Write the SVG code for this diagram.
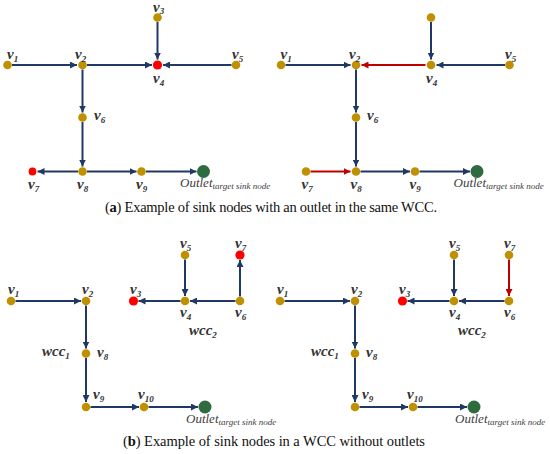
<svg xmlns="http://www.w3.org/2000/svg" width="550" height="454" viewBox="0 0 550 454">
<style>
.e{stroke:#1F3864;stroke-width:2;fill:none;marker-end:url(#ah)}
.er{stroke:#C00000;stroke-width:2;fill:none;marker-end:url(#ahr)}
.g{fill:#BF9000}
.r{fill:#FF0000}
.o{fill:#2E6B3E}
.l{font-family:"Liberation Serif",serif;font-style:italic;font-weight:bold;font-size:15px;fill:#333}
.s{font-size:9px}
.ot{font-family:"Liberation Serif",serif;font-style:italic;font-size:13px;fill:#404040}
.ots{font-size:9px}
.cap{font-family:"Liberation Serif",serif;font-size:14.5px;fill:#111}
</style>
<defs>
<marker id="ah" viewBox="0 0 8 8" refX="8" refY="4" markerWidth="7" markerHeight="7" markerUnits="userSpaceOnUse" orient="auto"><path d="M0,0L8,4L0,8z" fill="#1F3864"/></marker>
<marker id="ahr" viewBox="0 0 8 8" refX="8" refY="4" markerWidth="7" markerHeight="7" markerUnits="userSpaceOnUse" orient="auto"><path d="M0,0L8,4L0,8z" fill="#C00000"/></marker>
</defs>

<!-- Panel a left -->
<g id="connectors-a1">
<line class="e" x1="12" y1="65" x2="77" y2="65"/>
<line class="e" x1="87" y1="65" x2="152" y2="65"/>
<line class="e" x1="157.5" y1="22" x2="157.5" y2="59.5"/>
<line class="e" x1="231.5" y1="65" x2="163" y2="65"/>
<line class="e" x1="82.5" y1="69.5" x2="82.5" y2="112.5"/>
<line class="e" x1="82.5" y1="122" x2="82.5" y2="166.5"/>
<line class="e" x1="78" y1="171.5" x2="37.5" y2="171.5"/>
<line class="e" x1="87" y1="171.5" x2="136.5" y2="171.5"/>
<line class="e" x1="146" y1="171.5" x2="196.5" y2="171.5"/>
</g>
<g id="a1-v1"><circle class="g" cx="7.5" cy="65" r="4.3"/><text class="l" x="7" y="58.5">v<tspan class="s" dy="3">1</tspan></text></g>
<g id="a1-v2"><circle class="g" cx="82.5" cy="65" r="4.3"/><text class="l" x="75" y="58.5">v<tspan class="s" dy="3">2</tspan></text></g>
<g id="a1-v3"><circle class="g" cx="157.5" cy="17.5" r="4.3"/><text class="l" x="153" y="11.5">v<tspan class="s" dy="2">3</tspan></text></g>
<g id="a1-v4"><circle class="r" cx="157.5" cy="65" r="4.6"/><text class="l" x="153" y="83">v<tspan class="s" dy="3">4</tspan></text></g>
<g id="a1-v5"><circle class="g" cx="236" cy="65" r="4.3"/><text class="l" x="232" y="58.5">v<tspan class="s" dy="3">5</tspan></text></g>
<g id="a1-v6"><circle class="g" cx="82.5" cy="117.5" r="4.3"/><text class="l" x="94" y="120">v<tspan class="s" dy="3">6</tspan></text></g>
<g id="a1-v7"><circle class="r" cx="32.5" cy="171.5" r="3.9"/><text class="l" x="28" y="189">v<tspan class="s" dy="3">7</tspan></text></g>
<g id="a1-v8"><circle class="g" cx="82.5" cy="171.5" r="4.3"/><text class="l" x="77" y="189">v<tspan class="s" dy="3">8</tspan></text></g>
<g id="a1-v9"><circle class="g" cx="141.5" cy="171.5" r="4.3"/><text class="l" x="136" y="189">v<tspan class="s" dy="3">9</tspan></text></g>
<g id="a1-outlet"><circle class="o" cx="203.5" cy="171.5" r="6.5"/><text class="ot" x="180" y="187">Outlet<tspan class="ots" dy="2">target sink node</tspan></text></g>

<!-- Panel a right -->
<g id="connectors-a2">
<line class="e" x1="285.5" y1="65" x2="350.5" y2="65"/>
<line class="er" x1="425.5" y1="65" x2="361.5" y2="65"/>
<line class="e" x1="431" y1="22" x2="431" y2="59.5"/>
<line class="e" x1="505" y1="65" x2="436.5" y2="65"/>
<line class="e" x1="356" y1="69.5" x2="356" y2="112.5"/>
<line class="e" x1="356" y1="122" x2="356" y2="166.5"/>
<line class="er" x1="310.5" y1="171.5" x2="350.5" y2="171.5"/>
<line class="e" x1="360.5" y1="171.5" x2="410" y2="171.5"/>
<line class="e" x1="419.5" y1="171.5" x2="470" y2="171.5"/>
</g>
<g id="a2-v1"><circle class="g" cx="281" cy="65" r="4.3"/><text class="l" x="280.5" y="58.5">v<tspan class="s" dy="3">1</tspan></text></g>
<g id="a2-v2"><circle class="g" cx="356" cy="65" r="4.3"/><text class="l" x="349" y="58.5">v<tspan class="s" dy="3">2</tspan></text></g>
<g id="a2-v3"><circle class="g" cx="431" cy="17.5" r="4.3"/></g>
<g id="a2-v4"><circle class="g" cx="431" cy="65" r="4.3"/><text class="l" x="426" y="83">v<tspan class="s" dy="3">4</tspan></text></g>
<g id="a2-v5"><circle class="g" cx="509.5" cy="65" r="4.3"/><text class="l" x="505" y="58.5">v<tspan class="s" dy="3">5</tspan></text></g>
<g id="a2-v6"><circle class="g" cx="356" cy="117.5" r="4.3"/><text class="l" x="367" y="120">v<tspan class="s" dy="3">6</tspan></text></g>
<g id="a2-v7"><circle class="g" cx="306" cy="171.5" r="4.3"/><text class="l" x="301.5" y="189">v<tspan class="s" dy="3">7</tspan></text></g>
<g id="a2-v8"><circle class="g" cx="356" cy="171.5" r="4.3"/><text class="l" x="350.5" y="189">v<tspan class="s" dy="3">8</tspan></text></g>
<g id="a2-v9"><circle class="g" cx="415" cy="171.5" r="4.3"/><text class="l" x="409.5" y="189">v<tspan class="s" dy="3">9</tspan></text></g>
<g id="a2-outlet"><circle class="o" cx="477" cy="171.5" r="6.5"/><text class="ot" x="453.5" y="187">Outlet<tspan class="ots" dy="2">target sink node</tspan></text></g>

<g id="caption-a"><text class="cap" x="105" y="212" textLength="332">(<tspan font-weight="bold">a</tspan>) Example of sink nodes with an outlet in the same WCC.</text></g>

<!-- Panel b left -->
<g id="connectors-b1">
<line class="e" x1="15.5" y1="301" x2="81" y2="301"/>
<line class="e" x1="86" y1="305.5" x2="86" y2="348.5"/>
<line class="e" x1="86" y1="358" x2="86" y2="402"/>
<line class="e" x1="90.5" y1="407" x2="139" y2="407"/>
<line class="e" x1="148.5" y1="407" x2="198" y2="407"/>
<line class="e" x1="185" y1="259.5" x2="185" y2="296"/>
<line class="e" x1="180.5" y1="301" x2="138.5" y2="301"/>
<line class="e" x1="235.5" y1="301" x2="190" y2="301"/>
<line class="e" x1="240" y1="296.5" x2="240" y2="260"/>
</g>
<g id="b1-v1"><circle class="g" cx="11" cy="301" r="4.3"/><text class="l" x="8" y="294">v<tspan class="s" dy="3">1</tspan></text></g>
<g id="b1-v2"><circle class="g" cx="86" cy="301" r="4.3"/><text class="l" x="82" y="294">v<tspan class="s" dy="3">2</tspan></text></g>
<g id="b1-v3"><circle class="r" cx="133.5" cy="301" r="4.6"/><text class="l" x="130" y="294">v<tspan class="s" dy="3">3</tspan></text></g>
<g id="b1-v4"><circle class="g" cx="185" cy="301" r="4.3"/><text class="l" x="180" y="317">v<tspan class="s" dy="3">4</tspan></text></g>
<g id="b1-v5"><circle class="g" cx="185" cy="255" r="4.3"/><text class="l" x="180" y="247.5">v<tspan class="s" dy="3">5</tspan></text></g>
<g id="b1-v6"><circle class="g" cx="240" cy="301" r="4.3"/><text class="l" x="235" y="317">v<tspan class="s" dy="3">6</tspan></text></g>
<g id="b1-v7"><circle class="r" cx="240" cy="255" r="4.6"/><text class="l" x="235" y="247.5">v<tspan class="s" dy="3">7</tspan></text></g>
<g id="b1-v8"><circle class="g" cx="86" cy="353.5" r="4.3"/><text class="l" x="97" y="357">v<tspan class="s" dy="3">8</tspan></text></g>
<g id="b1-v9"><circle class="g" cx="86" cy="407" r="4.3"/><text class="l" x="93" y="399">v<tspan class="s" dy="3">9</tspan></text></g>
<g id="b1-v10"><circle class="g" cx="144" cy="407" r="4.3"/><text class="l" x="138" y="399">v<tspan class="s" dy="3">10</tspan></text></g>
<g id="b1-outlet"><circle class="o" cx="205" cy="407" r="6.5"/><text class="ot" x="186" y="423">Outlet<tspan class="ots" dy="2">target sink node</tspan></text></g>
<g id="b1-wcc1"><text class="l" x="42" y="356">wcc<tspan class="s" dy="3">1</tspan></text></g>
<g id="b1-wcc2"><text class="l" x="189" y="335">wcc<tspan class="s" dy="3">2</tspan></text></g>

<!-- Panel b right -->
<g id="connectors-b2">
<line class="e" x1="284.5" y1="301" x2="350" y2="301"/>
<line class="e" x1="355" y1="305.5" x2="355" y2="348.5"/>
<line class="e" x1="355" y1="358" x2="355" y2="402"/>
<line class="e" x1="359.5" y1="407" x2="408" y2="407"/>
<line class="e" x1="417.5" y1="407" x2="467" y2="407"/>
<line class="e" x1="454" y1="259.5" x2="454" y2="296"/>
<line class="e" x1="449.5" y1="301" x2="407.5" y2="301"/>
<line class="e" x1="504.5" y1="301" x2="459" y2="301"/>
<line class="er" x1="509" y1="259.5" x2="509" y2="296"/>
</g>
<g id="b2-v1"><circle class="g" cx="280" cy="301" r="4.3"/><text class="l" x="277" y="294">v<tspan class="s" dy="3">1</tspan></text></g>
<g id="b2-v2"><circle class="g" cx="355" cy="301" r="4.3"/><text class="l" x="351" y="294">v<tspan class="s" dy="3">2</tspan></text></g>
<g id="b2-v3"><circle class="r" cx="402.5" cy="301" r="4.6"/><text class="l" x="399" y="294">v<tspan class="s" dy="3">3</tspan></text></g>
<g id="b2-v4"><circle class="g" cx="454" cy="301" r="4.3"/><text class="l" x="449" y="317">v<tspan class="s" dy="3">4</tspan></text></g>
<g id="b2-v5"><circle class="g" cx="454" cy="255" r="4.3"/><text class="l" x="449" y="247.5">v<tspan class="s" dy="3">5</tspan></text></g>
<g id="b2-v6"><circle class="g" cx="509" cy="301" r="4.3"/><text class="l" x="504" y="317">v<tspan class="s" dy="3">6</tspan></text></g>
<g id="b2-v7"><circle class="g" cx="509" cy="255" r="4.3"/><text class="l" x="504" y="247.5">v<tspan class="s" dy="3">7</tspan></text></g>
<g id="b2-v8"><circle class="g" cx="355" cy="353.5" r="4.3"/><text class="l" x="366" y="357">v<tspan class="s" dy="3">8</tspan></text></g>
<g id="b2-v9"><circle class="g" cx="355" cy="407" r="4.3"/><text class="l" x="362" y="399">v<tspan class="s" dy="3">9</tspan></text></g>
<g id="b2-v10"><circle class="g" cx="413" cy="407" r="4.3"/><text class="l" x="407" y="399">v<tspan class="s" dy="3">10</tspan></text></g>
<g id="b2-outlet"><circle class="o" cx="474" cy="407" r="6.5"/><text class="ot" x="455" y="423">Outlet<tspan class="ots" dy="2">target sink node</tspan></text></g>
<g id="b2-wcc1"><text class="l" x="311" y="356">wcc<tspan class="s" dy="3">1</tspan></text></g>
<g id="b2-wcc2"><text class="l" x="458" y="335">wcc<tspan class="s" dy="3">2</tspan></text></g>

<g id="caption-b"><text class="cap" x="123" y="446" textLength="302">(<tspan font-weight="bold">b</tspan>) Example of sink nodes in a WCC without outlets</text></g>
</svg>
